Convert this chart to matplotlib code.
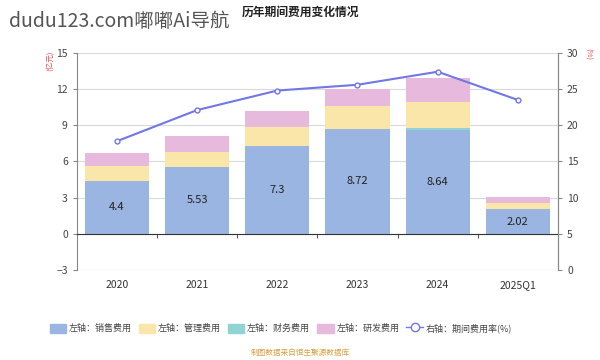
import numpy as np
import matplotlib.pyplot as plt
import matplotlib.transforms as mtransforms

plt.rcParams['font.family'] = ['Noto Sans CJK SC', 'DejaVu Sans']

# data
years = ['2020', '2021', '2022', '2023', '2024', '2025Q1']
sales = np.array([4.4, 5.53, 7.3, 8.72, 8.64, 2.02])
finance = np.array([-0.06, -0.05, 0.0, 0.0, 0.1, 0.0])
admin = np.array([1.25, 1.25, 1.55, 1.88, 2.2, 0.55])
rnd = np.array([1.05, 1.33, 1.33, 1.4, 1.95, 0.5])
rate = np.array([17.8, 22.1, 24.8, 25.6, 27.4, 23.5])

c_sales = '#9ab5e2'
c_admin = '#f9e6a8'
c_fin = '#8fd4d2'
c_rnd = '#e6b9dd'
c_line = '#7276e6'

fig = plt.figure(figsize=(6, 3.6), dpi=100)
ax = fig.add_axes([0.128, 0.25, 0.802, 0.603])
x = np.arange(len(years))
w = 0.8

# negative finance cost drawn below zero, positive stacked on sales
fin_pos = np.clip(finance, 0, None)
fin_neg = np.clip(finance, None, 0)
ax.bar(x, sales, w, color=c_sales, zorder=2)
ax.bar(x, fin_neg, w, color=c_fin, zorder=2)
ax.bar(x, fin_pos, w, bottom=sales, color=c_fin, zorder=2)
ax.bar(x, admin, w, bottom=sales + fin_pos, color=c_admin, zorder=2)
ax.bar(x, rnd, w, bottom=sales + fin_pos + admin, color=c_rnd, zorder=2)

for i in range(len(years)):
    ax.text(x[i], sales[i] / 2, f'{sales[i]:g}',
            ha='center', va='center', fontsize=8, color='#222222', zorder=3)

ax.set_xlim(-0.5, len(years) - 0.5)
ax.set_ylim(-3, 15)
ax.set_yticks([-3, 0, 3, 6, 9, 12, 15])
ax.grid(axis='y', color='#d9d9d9', linewidth=0.8, zorder=0)

# category axis sits on y=0, ticks between categories
ax.spines['bottom'].set_position(('data', 0))
ax.spines['bottom'].set_color('#333333')
ax.spines['bottom'].set_zorder(3)
ax.set_xticks(x)
ax.set_xticklabels([])
ax.set_xticks(np.arange(len(years) + 1) - 0.5, minor=True)
ax.tick_params(axis='x', which='major', length=0)
ax.tick_params(axis='x', which='minor', length=3, color='#333333')
trans = mtransforms.blended_transform_factory(ax.transData, ax.transAxes)
for i, yr in enumerate(years):
    ax.text(x[i], -0.045, yr, transform=trans, ha='center', va='top',
            fontsize=7.5, color='#333333')

ax.spines['top'].set_visible(False)
for s in ['left', 'right']:
    ax.spines[s].set_color('#888888')
ax.tick_params(axis='y', labelsize=7.5, colors='#444444', length=3, color='#888888')

ax2 = ax.twinx()
ax2.set_ylim(0, 30)
ax2.set_yticks([0, 5, 10, 15, 20, 25, 30])
ax2.plot(x, rate, color=c_line, linewidth=1.5, marker='o', markersize=3.5,
         markerfacecolor='white', markeredgecolor=c_line, zorder=4)
for s in ['top', 'bottom', 'left']:
    ax2.spines[s].set_visible(False)
ax2.spines['right'].set_color('#888888')
ax2.tick_params(axis='y', labelsize=7.5, colors='#444444', length=3, color='#888888')

fig.text(0.083, 0.83, '(亿元)', rotation=90, color='#e05050', fontsize=5.5, ha='center', va='center')
fig.text(0.98, 0.85, '(%)', rotation=270, color='#e05050', fontsize=5.5, ha='center', va='center')

fig.text(0.5, 0.965, '历年期间费用变化情况', ha='center', va='center', fontsize=8.5,
         fontweight='bold', color='#222222')
fig.text(0.015, 0.94, 'dudu123.com嘟嘟Ai导航', ha='left', va='center', fontsize=14,
         color='#555555')

# legend
handles = [
    plt.Rectangle((0, 0), 1, 1, color=c_sales),
    plt.Rectangle((0, 0), 1, 1, color=c_admin),
    plt.Rectangle((0, 0), 1, 1, color=c_fin),
    plt.Rectangle((0, 0), 1, 1, color=c_rnd),
    plt.Line2D([0], [0], color=c_line, marker='o', markersize=6,
               markerfacecolor='white', linewidth=1),
]
labels = ['左轴：销售费用', '左轴：管理费用', '左轴：财务费用', '左轴：研发费用', '右轴：期间费用率(%)']
fig.legend(handles, labels, loc='center', bbox_to_anchor=(0.468, 0.088), ncol=5,
           frameon=False, fontsize=6.5, handlelength=1.8, handleheight=1.2,
           columnspacing=0.8, handletextpad=0.3, labelcolor='#444444')

fig.text(0.5, 0.02, '制图数据来自恒生聚源数据库', ha='center', va='center', fontsize=5.5,
         color='#d9a040')

fig.savefig('out.png', dpi=100)
